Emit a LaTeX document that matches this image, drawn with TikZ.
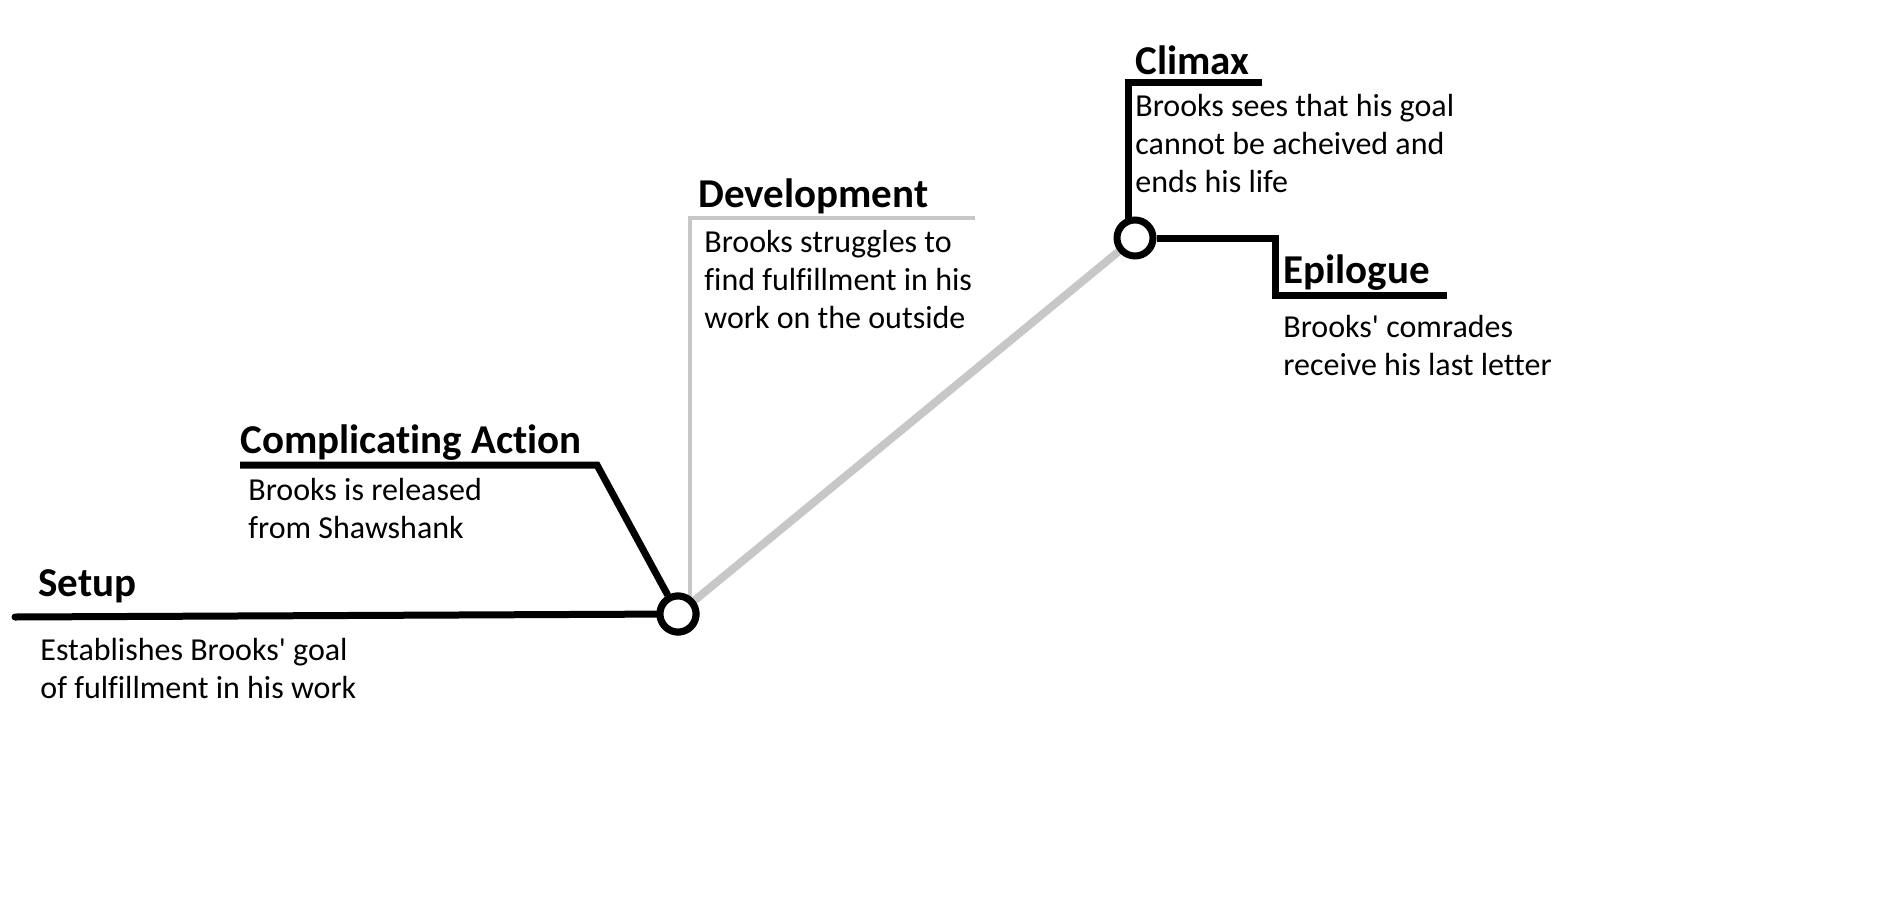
\documentclass[tikz,border=0pt]{standalone}
\usepackage{fontspec}
\setmainfont{Carlito}[Ligatures={NoCommon}]
\begin{document}
\begin{tikzpicture}[x=0.5pt,y=-0.5pt,
  blk/.style={line width=3.5pt,black},
  gry/.style={line width=2pt,black!22},
  ring/.style={circle,draw,line width=3.5pt,fill=white,minimum size=18pt,inner sep=0pt},
  head/.style={anchor=base west,font=\fontsize{20.5}{24}\selectfont\bfseries,inner sep=0pt},
  desc/.style={anchor=north west,align=left,font=\fontsize{16}{19}\selectfont,inner sep=0pt}]
\useasboundingbox (0,0) rectangle (1893,920);
% gray connectors
\coordinate (d0) at (690,218);
\coordinate (d1) at (975,218);
\node[ring,draw=none,fill=none] (c1p) at (678,614) {};
\node[ring,draw=none,fill=none] (c2p) at (1135,238) {};
\draw[gry] (690,600) -- (d0) -- (d1);
\draw[line width=4pt,black!22] (c1p) -- (c2p);
% setup
\coordinate (s0) at (15,617);
\node[ring] (c1) at (678,614) {};
\draw[blk,line cap=round] (s0) -- (c1);
\node[ring] (c1) at (678,614) {};
\node[head] at (38,596) {Setup};
\node[desc] at (40,638) {Establishes Brooks\textquotesingle\ goal\\of fulfillment in his work};
% complicating
\coordinate (a0) at (240,465);
\coordinate (a1) at (597,465);
\draw[blk] (a0) -- (a1) -- (c1);
\node[head] at (240,453) {Complicating Action};
\node[desc] at (248,478) {Brooks is released\\from Shawshank};
% development
\node[head] at (698,207) {Development};
\node[desc] at (704,230) {Brooks struggles to\\find fulfillment in his\\work on the outside};
% climax
\coordinate (k0) at (1128,83);
\coordinate (k1) at (1262,83);
\coordinate (e0) at (1275,238);
\coordinate (e1) at (1275,295);
\coordinate (e2) at (1447,295);
\draw[blk] (1128,225) -- (k0) -- (k1);
\draw[blk] (c2p) -- (e0) -- (e1) -- (e2);
\node[ring] (c2) at (1135,238) {};
\node[head] at (1135,75) {Climax};
\node[desc] at (1135,94) {Brooks sees that his goal\\cannot be acheived and\\ends his life};
\node[head] at (1283,283) {Epilogue};
\node[desc] at (1283,315) {Brooks\textquotesingle\ comrades\\receive his last letter};
\end{tikzpicture}
\end{document}
